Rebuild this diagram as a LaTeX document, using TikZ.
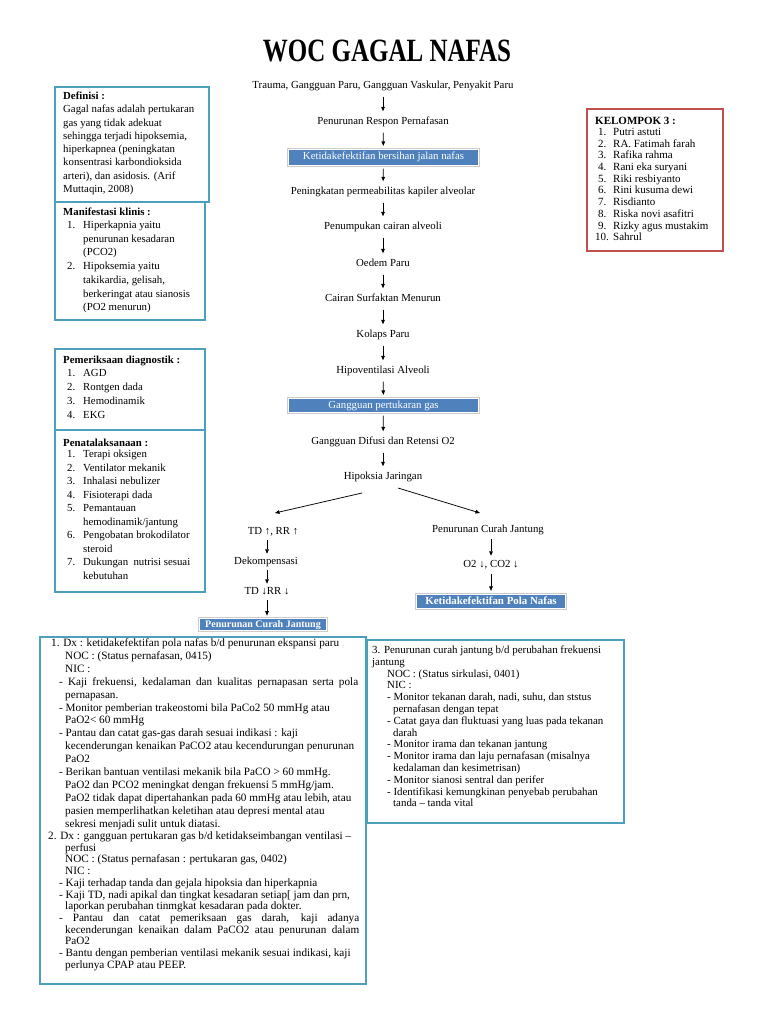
\documentclass[tikz,border=0pt]{standalone}
\usepackage{fontspec}
\setmainfont{Liberation Serif}
\usepackage{graphicx}
\usetikzlibrary{arrows.meta,calc,shadows}
\definecolor{tealb}{RGB}{75,160,190}
\definecolor{redb}{RGB}{192,80,77}
\definecolor{blueb}{RGB}{79,129,189}
\newcommand{\fa}{\fontsize{10.8}{13}\selectfont}
\newcommand{\fb}{\fontsize{11.2}{12}\selectfont}
\newcommand{\fc}{\fontsize{10.9}{12}\selectfont}
\newcommand{\fk}{\fontsize{11}{12}\selectfont}
\begin{document}
\begin{tikzpicture}[x=1pt,y=-1pt,
  flow/.style={font=\fa, inner sep=0pt, text height=7.5pt, text depth=2.5pt, minimum height=21pt},
  sm/.style={font=\fa, inner sep=0pt, text height=7.5pt, text depth=2.5pt, minimum height=16pt},
  smb/.style={font=\fa, inner sep=0pt, text height=7.5pt, text depth=2.5pt, minimum height=18pt},
  arr/.style={line width=0.75pt, -{Triangle[length=4.5pt,width=3.6pt]}},
  bbox/.style={fill=blueb, text=white, draw=white, line width=1.2pt,
    drop shadow={shadow xshift=0.8pt, shadow yshift=-1.2pt, opacity=0.25},
    preaction={draw=black!20, line width=2.8pt}, inner sep=0pt, text height=7pt, text depth=2pt},
  tx/.style={anchor=base west, inner sep=0pt, yshift=-3.5pt, font=\fa},
  bx/.style={tx, font=\fb},
  cx/.style={tx, font=\fc},
  kx/.style={tx, font=\fk},
  tealbox/.style={draw=tealb, line width=1.4pt},
  redbox/.style={draw=redb, line width=1.2pt},
  ttl/.style={font=\fontsize{25}{30}\selectfont\bfseries, inner sep=0pt}]
\useasboundingbox (0,0) rectangle (768,1024);
\fill[white] (0,0) rectangle (768,1024);

% title
\node[ttl] (ttl) at (387,51) {\scalebox{1}[1.3]{WOC GAGAL NAFAS}};

% ---------- central flow ----------
\node[flow] (t1) at (383,86) {Trauma, Gangguan Paru, Gangguan Vaskular, Penyakit Paru};
\node[flow] (t2) at (383,122) {Penurunan Respon Pernafasan};
\node[bbox, minimum width=190pt, minimum height=16pt, font=\fa] (b1) at (383.5,157.5) {Ketidakefektifan bersihan jalan nafas};
\node[flow] (t3) at (383,192) {Peningkatan permeabilitas kapiler alveolar};
\node[flow] (t4) at (383,227) {Penumpukan cairan alveoli};
\node[flow] (t5) at (383,264) {Oedem Paru};
\node[flow] (t6) at (383,299) {Cairan Surfaktan Menurun};
\node[flow] (t7) at (383,335) {Kolaps Paru};
\node[flow] (t8) at (383,371) {Hipoventilasi Alveoli};
\node[bbox, minimum width=190pt, minimum height=14pt, font=\fa] (b2) at (383.5,405.5) {Gangguan pertukaran gas};
\node[flow] (t9) at (383,442) {Gangguan Difusi dan Retensi O2};
\node[flow] (t10) at (383,477) {Hipoksia Jaringan};

\draw[arr] (t1) -- (t2);
\draw[arr, shorten >=3pt] (t2) -- (b1);
\draw[arr, shorten <=2.5pt] (b1) -- (t3);
\draw[arr] (t3) -- (t4);
\draw[arr] (t4) -- (t5);
\draw[arr] (t5) -- (t6);
\draw[arr] (t6) -- (t7);
\draw[arr] (t7) -- (t8);
\draw[arr, shorten >=3pt] (t8) -- (b2);
\draw[arr, shorten <=2.5pt] (b2) -- (t9);
\draw[arr] (t9) -- (t10);

% left branch
\node[sm] (tdup) at (273,532) {TD ↑, RR ↑};
\node[sm] (dek) at (266,562) {Dekompensasi};
\node[sm] (tdd) at (267,592) {TD ↓RR ↓};
\node[bbox, minimum width=127pt, minimum height=12.5pt, font=\fontsize{10}{12}\selectfont\bfseries] (b3) at (263,624.5) {Penurunan Curah Jantung};
% right branch
\node[smb] (pcj) at (488,530) {Penurunan Curah Jantung};
\node[smb] (o2) at (491,565) {O2 ↓, CO2 ↓};
\node[bbox, minimum width=149pt, minimum height=14pt, font=\fontsize{10.9}{12}\selectfont\bfseries] (b4) at (491,601.5) {Ketidakefektifan Pola Nafas};

\draw[arr] ($(t10)+(-21,16)$) -- ($(tdup)+(2,-19)$);
\draw[arr] ($(t10)+(15,11)$) -- ($(pcj)+(-8,-17)$);
\draw[arr] (tdup.south -| tdd) -- (dek.north -| tdd);
\draw[arr] (dek.south -| tdd) -- (tdd.north);
\draw[arr, shorten >=2pt] (tdd.south) -- (tdd.south |- b3.north);
\draw[arr] (pcj.south -| o2) -- (o2.north);
\draw[arr, shorten >=3pt] (o2.south) -- (o2.south |- b4.north);

% ---------- left info boxes ----------
\draw[tealbox] (55,87) rectangle (209,202);
\foreach \t [count=\i] in {{\textbf{Definisi :}},{Gagal nafas adalah pertukaran},{gas yang tidak adekuat},{sehingga terjadi hipoksemia,},{hiperkapnea (peningkatan},{konsentrasi karbondioksida},{arteri), dan asidosis. (Arif},{Muttaqin, 2008)}}
  \node[tx] (def\i) at (63,{96+13.3*(\i-1)}) {\t};

\draw[tealbox] (55,202) rectangle (205,320);
\node[tx] (man0) at (63,212) {\textbf{Manifestasi klinis :}};
\foreach \n/\t [count=\i] in {1./{Hiperkapnia yaitu},/{penurunan kesadaran},/{(PCO2)},2./{Hipoksemia yaitu},/{takikardia, gelisah,},/{berkeringat atau sianosis},/{(PO2 menurun)}}{
  \node[tx] (mann\i) at (67,{225+13.7*(\i-1)}) {\n};
  \node[tx] (man\i) at (83,{225+13.7*(\i-1)}) {\t};
}

\draw[tealbox] (55,349) rectangle (205,430);
\node[tx] (pem0) at (63,360) {\textbf{Pemeriksaan diagnostik :}};
\foreach \t [count=\i] in {AGD,{Rontgen dada},Hemodinamik,EKG}{
  \node[tx] (pemn\i) at (67,{373+14*(\i-1)}) {\i.};
  \node[tx] (pem\i) at (83,{373+14*(\i-1)}) {\t};
}

\draw[tealbox] (55,430) rectangle (205,592);
\node[tx] (pen0) at (63,443) {\textbf{Penatalaksanaan :}};
\foreach \n/\t [count=\i] in {1./{Terapi oksigen},2./{Ventilator mekanik},3./{Inhalasi nebulizer},4./{Fisioterapi dada},5./{Pemantauan},/{hemodinamik/jantung},6./{Pengobatan brokodilator},/{steroid},7./{Dukungan\ \ nutrisi sesuai},/{kebutuhan}}{
  \node[tx] (penn\i) at (67,{454+13.5*(\i-1)}) {\n};
  \node[tx] (pen\i) at (83,{454+13.5*(\i-1)}) {\t};
}

% ---------- kelompok ----------
\draw[redbox] (587,109) rectangle (723,251);
\node[kx] (kel0) at (595,121) {\textbf{KELOMPOK 3 :}};
\foreach \t [count=\i] in {{Putri astuti},{RA. Fatimah farah},{Rafika rahma},{Rani eka suryani},{Riki resbiyanto},{Rini kusuma dewi},{Risdianto},{Riska novi asafitri},{Rizky agus mustakim},{Sahrul}}{
  \node[kx] (keln\i) at ({\i<10 ? 598 : 595},{132+11.7*(\i-1)}) {\i.};
  \node[kx] (kel\i) at (613,{132+11.7*(\i-1)}) {\t};
}

% ---------- bottom boxes ----------
\draw[tealbox] (40,637) rectangle (366,984);
\foreach \xx/\t [count=\i] in {
 51/{1. Dx : ketidakefektifan pola nafas b/d penurunan ekspansi paru},
 65/{NOC : (Status pernafasan, 0415)},
 65/{NIC :},
 59/{\makebox[299pt][s]{- Kaji frekuensi, kedalaman dan kualitas pernapasan serta pola}},
 65/{pernapasan.},
 59/{- Monitor pemberian trakeostomi bila PaCo2 50 mmHg atau},
 65/{PaO2< 60 mmHg},
 59/{- Pantau dan catat gas-gas darah sesuai indikasi : kaji},
 65/{kecenderungan kenaikan PaCO2 atau kecendurungan penurunan},
 65/{PaO2},
 59/{- Berikan bantuan ventilasi mekanik bila PaCO > 60 mmHg.},
 65/{PaO2 dan PCO2 meningkat dengan frekuensi 5 mmHg/jam.},
 65/{PaO2 tidak dapat dipertahankan pada 60 mmHg atau lebih, atau},
 65/{pasien memperlihatkan keletihan atau depresi mental atau},
 65/{sekresi menjadi sulit untuk diatasi.}}
  \node[bx] (dxa\i) at (\xx,{643+12.9*(\i-1)}) {\t};
\foreach \xx/\t [count=\i] in {
 48/{2. Dx : gangguan pertukaran gas b/d ketidakseimbangan ventilasi –},
 65/{perfusi},
 65/{NOC : (Status pernafasan : pertukaran gas, 0402)},
 65/{NIC :},
 59/{- Kaji terhadap tanda dan gejala hipoksia dan hiperkapnia},
 59/{- Kaji TD, nadi apikal dan tingkat kesadaran setiap[ jam dan prn,},
 65/{laporkan perubahan tinmgkat kesadaran pada dokter.},
 59/{\makebox[300pt][s]{- Pantau dan catat pemeriksaan gas darah, kaji adanya}},
 65/{\makebox[294pt][s]{kecenderungan kenaikan dalam PaCO2 atau penurunan dalam}},
 65/{PaO2},
 59/{- Bantu dengan pemberian ventilasi mekanik sesuai indikasi, kaji},
 65/{perlunya CPAP atau PEEP.}}
  \node[bx] (dxb\i) at (\xx,{836+11.72*(\i-1)}) {\t};

\draw[tealbox] (367,640) rectangle (624,823);
\foreach \xx/\t [count=\i] in {
 372/{3. Penurunan curah jantung b/d perubahan frekuensi},
 372/{jantung},
 387/{NOC : (Status sirkulasi, 0401)},
 387/{NIC :},
 387/{- Monitor tekanan darah, nadi, suhu, dan ststus},
 393/{pernafasan dengan tepat},
 387/{- Catat gaya dan fluktuasi yang luas pada tekanan},
 393/{darah},
 387/{- Monitor irama dan tekanan jantung},
 387/{- Monitor irama dan laju pernafasan (misalnya},
 393/{kedalaman dan kesimetrisan)},
 387/{- Monitor sianosi sentral dan perifer},
 387/{- Identifikasi kemungkinan penyebab perubahan},
 393/{tanda – tanda vital}}
  \node[cx] (dxc\i) at (\xx,{650+11.8*(\i-1)}) {\t};
\end{tikzpicture}
\end{document}
